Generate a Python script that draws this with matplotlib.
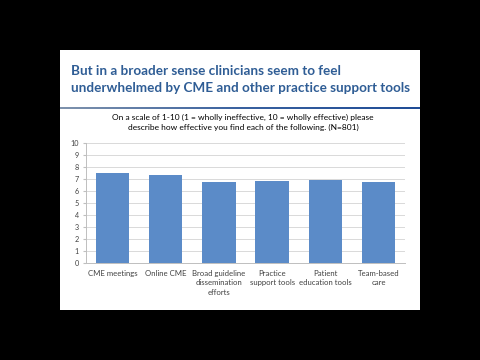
# Slide-style bar chart: clinician ratings of CME and practice support tools

import matplotlib
matplotlib.use("Agg")
import matplotlib.pyplot as plt
import numpy as np
from matplotlib.colors import LinearSegmentedColormap

categories = ["CME meetings", "Online CME", "Broad guideline\ndissemination\nefforts",
              "Practice\nsupport tools", "Patient\neducation tools", "Team-based\ncare"]
scores = [7.45, 7.3, 6.75, 6.8, 6.88, 6.75]
yticks = list(range(0, 11))

title = "But in a broader sense clinicians seem to feel\nunderwhelmed by CME and other practice support tools"
subtitle = ("On a scale of 1-10 (1 = wholly ineffective, 10 = wholly effective) please\n"
            "describe how effective you find each of the following. (N=801)")

plt.rcParams['font.family'] = ['Lato', 'DejaVu Sans']

fig = plt.figure(figsize=(4.8, 3.6), dpi=100)
fig.patch.set_facecolor("black")

# white slide
slide = plt.Rectangle((60/480, 50/360), 360/480, 260/360, transform=fig.transFigure,
                      facecolor="white", edgecolor="none", zorder=-5)
fig.patches.append(slide)

# title
fig.text(71/480, 1 - 65/360, title, color="#2F5D95", fontsize=9.7, fontweight="bold",
         va="top", ha="left", linespacing=1.45)

# gradient rule under title
rule = fig.add_axes([60/480, 1 - 109.5/360, 360/480, 2.5/360])
grad = np.linspace(0, 1, 256).reshape(1, -1)
cmap = LinearSegmentedColormap.from_list("rule", ["#7f93ad", "#3a62a0", "#1f4c96"])
rule.imshow(grad, aspect="auto", cmap=cmap)
rule.axis("off")

# chart subtitle
fig.text(243/480, 1 - 114/360, subtitle, color="black", fontsize=6.0,
         ha="center", va="top", linespacing=1.45)

ax = fig.add_axes([86/480, 97.3/360, 319/480, 120/360])
ax.set_facecolor("white")
x = np.arange(len(categories))
ax.bar(x, scores, width=0.63, color="#5b8bc8", zorder=3)
ax.set_ylim(0, 10)
ax.set_xlim(-0.5, len(categories) - 0.5)
ax.set_yticks(yticks)
ax.set_xticks(x)
ax.set_xticklabels(categories, fontsize=5.6, color="#404040", linespacing=1.45)
ax.tick_params(axis="y", labelsize=5.2, labelcolor="#404040", length=2, color="#bfbfbf", pad=3)
ax.tick_params(axis="x", length=0, pad=5)
ax.grid(axis="y", color="#d9d9d9", linewidth=0.7, zorder=0)
for s in ["top", "right"]:
    ax.spines[s].set_visible(False)
ax.spines["left"].set_color("#bfbfbf")
ax.spines["bottom"].set_color("#bfbfbf")
ax.spines["left"].set_linewidth(0.7)
ax.spines["bottom"].set_linewidth(0.7)

fig.savefig("out.png", dpi=100, facecolor=fig.get_facecolor())
